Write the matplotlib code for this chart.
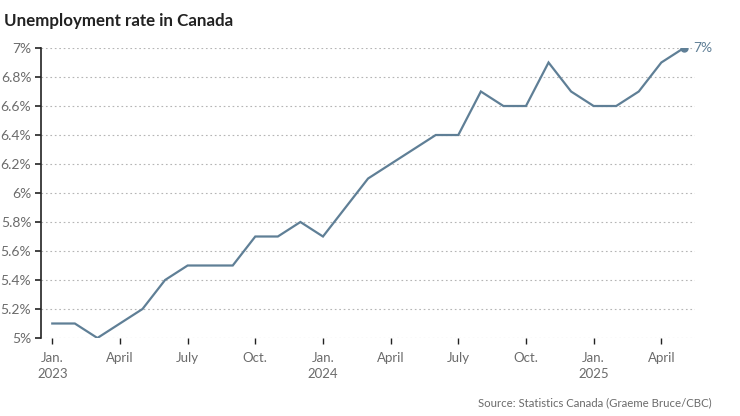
import numpy as np
import matplotlib
matplotlib.use('Agg')
import matplotlib.pyplot as plt

plt.rcParams['font.family'] = ['Lato', 'DejaVu Sans']

# monthly unemployment rate, Jan 2023 .. May 2025
rate = [5.1, 5.1, 5.0, 5.1, 5.2, 5.4, 5.5, 5.5, 5.5, 5.7, 5.7, 5.8,
        5.7, 5.9, 6.1, 6.2, 6.3, 6.4, 6.4, 6.7, 6.6, 6.6, 6.9, 6.7,
        6.6, 6.6, 6.7, 6.9, 7.0]
tick_months = [0, 3, 6, 9, 12, 15, 18, 21, 24, 27]
tick_labels = ['Jan.\n2023', 'April', 'July', 'Oct.', 'Jan.\n2024', 'April',
               'July', 'Oct.', 'Jan.\n2025', 'April']
y_ticks = [5.0, 5.2, 5.4, 5.6, 5.8, 6.0, 6.2, 6.4, 6.6, 6.8, 7.0]

line_color = '#5f7f96'
text_gray = '#6b6b6b'

fig = plt.figure(figsize=(7.4, 4.16), dpi=100)
ax = fig.add_axes([0.0554, 0.1875, 0.884, 0.6971])

x = np.arange(len(rate))
ax.plot(x, rate, color=line_color, lw=1.6, solid_joinstyle='miter', zorder=3)
ax.plot(x[-1], rate[-1], 'o', color=line_color, ms=5, zorder=4)
ax.annotate('7%', (x[-1], rate[-1]), xytext=(7, 0), textcoords='offset points',
            va='center', ha='left', color=line_color, fontsize=10,
            annotation_clip=False)

ax.set_xlim(-0.5, 28.5)
ax.set_ylim(5, 7)
ax.set_yticks(y_ticks)
ax.set_yticklabels([('%g' % v) + '%' for v in y_ticks])
ax.set_xticks(tick_months)
ax.set_xticklabels(tick_labels)

ax.grid(axis='y', color='#b5b5b5', ls=(0, (1.5, 2.5)), lw=0.8)
ax.set_axisbelow(True)
for s in ['top', 'right', 'bottom']:
    ax.spines[s].set_visible(False)
ax.spines['left'].set_color('#222222')
ax.spines['left'].set_linewidth(1.2)

ax.tick_params(axis='y', length=4, width=1.2, color='#222222',
               labelcolor=text_gray, labelsize=10, pad=3)
ax.tick_params(axis='x', length=4, width=1, color='#222222',
               labelcolor=text_gray, labelsize=9.5, pad=6, direction='out')
for lab in ax.get_xticklabels():
    lab.set_linespacing(1.4)

fig.text(0.006, 0.95, 'Unemployment rate in Canada', fontsize=12.2,
         fontweight='bold', color='#222222', va='center', ha='left')
fig.text(0.962, 0.032, 'Source: Statistics Canada (Graeme Bruce/CBC)',
         fontsize=8.2, color=text_gray, ha='right', va='center')

fig.savefig('out.png', dpi=100)
